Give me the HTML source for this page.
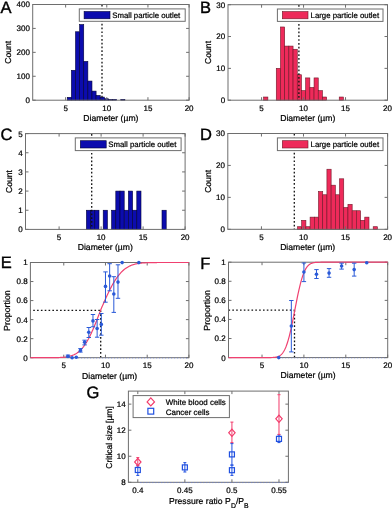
<!DOCTYPE html>
<html><head><meta charset="utf-8"><style>html,body{margin:0;padding:0;background:#fff;width:392px;height:508px;overflow:hidden}svg{display:block;will-change:transform}</style></head>
<body><svg width="392" height="508" viewBox="0 0 392 508" font-family='"Liberation Sans", sans-serif' fill="#000"><style>text{stroke:#000;stroke-width:0.22px;text-rendering:geometricPrecision}</style>
<rect width="392" height="508" fill="#fff"/>
<rect x="67.27" y="97.33" width="4.12" height="2.87" fill="#0c0cae" stroke="#000038" stroke-width="0.6"/>
<rect x="71.39" y="70.29" width="4.12" height="29.91" fill="#0c0cae" stroke="#000038" stroke-width="0.6"/>
<rect x="75.5" y="31.77" width="4.12" height="68.43" fill="#0c0cae" stroke="#000038" stroke-width="0.6"/>
<rect x="79.62" y="24.6" width="4.12" height="75.6" fill="#0c0cae" stroke="#000038" stroke-width="0.6"/>
<rect x="83.74" y="61.44" width="4.12" height="38.76" fill="#0c0cae" stroke="#000038" stroke-width="0.6"/>
<rect x="87.85" y="81.06" width="4.12" height="19.14" fill="#0c0cae" stroke="#000038" stroke-width="0.6"/>
<rect x="91.97" y="91.11" width="4.12" height="9.09" fill="#0c0cae" stroke="#000038" stroke-width="0.6"/>
<rect x="96.08" y="95.42" width="4.12" height="4.78" fill="#0c0cae" stroke="#000038" stroke-width="0.6"/>
<rect x="100.2" y="97.09" width="4.12" height="3.11" fill="#0c0cae" stroke="#000038" stroke-width="0.6"/>
<rect x="104.31" y="98.76" width="4.12" height="1.44" fill="#0c0cae" stroke="#000038" stroke-width="0.6"/>
<rect x="108.43" y="99.48" width="4.12" height="0.72" fill="#0c0cae" stroke="#000038" stroke-width="0.6"/>
<rect x="112.55" y="99.48" width="4.12" height="0.72" fill="#0c0cae" stroke="#000038" stroke-width="0.6"/>
<rect x="120.78" y="99.48" width="4.12" height="0.72" fill="#0c0cae" stroke="#000038" stroke-width="0.6"/>
<path d="M102 4.85V100.2" stroke="#111" stroke-width="1.3" stroke-dasharray="1.7 2.09" fill="none"/>
<rect x="79.3" y="8.9" width="105.9" height="12.4" fill="#fff" stroke="#6e6e6e" stroke-width="1"/>
<rect x="84.1" y="11.5" width="25.9" height="7.3" fill="#0c0cae" stroke="#000038" stroke-width="0.6"/>
<text x="112.2" y="18.1" font-size="7.8">Small particle outlet</text>
<rect x="32.7" y="4.5" width="156.4" height="95.7" fill="none" stroke="#6e6e6e" stroke-width="1"/>
<path d="M65.63 100.2v-3.0M65.63 4.5v3.0M106.78 100.2v-3.0M106.78 4.5v3.0M147.94 100.2v-3.0M147.94 4.5v3.0M189.1 100.2v-3.0M189.1 4.5v3.0M32.7 100.2h3.0M189.1 100.2h-3.0M32.7 76.28h3.0M189.1 76.28h-3.0M32.7 52.35h3.0M189.1 52.35h-3.0M32.7 28.42h3.0M189.1 28.42h-3.0M32.7 4.5h3.0M189.1 4.5h-3.0" stroke="#6e6e6e" stroke-width="1" fill="none"/>
<text x="65.63" y="110.8" font-size="8.0" text-anchor="middle">5</text>
<text x="106.78" y="110.8" font-size="8.0" text-anchor="middle">10</text>
<text x="147.94" y="110.8" font-size="8.0" text-anchor="middle">15</text>
<text x="189.1" y="110.8" font-size="8.0" text-anchor="middle">20</text>
<text x="29.9" y="103.1" font-size="8.0" text-anchor="end">0</text>
<text x="29.9" y="79.18" font-size="8.0" text-anchor="end">100</text>
<text x="29.9" y="55.25" font-size="8.0" text-anchor="end">200</text>
<text x="29.9" y="31.32" font-size="8.0" text-anchor="end">300</text>
<text x="29.9" y="7.4" font-size="8.0" text-anchor="end">400</text>
<text x="110.9" y="121" font-size="8.6" text-anchor="middle">Diameter (µm)</text>
<text transform="translate(10.6 52.35) rotate(-90)" x="0" y="0" font-size="8.6" text-anchor="middle">Count</text>
<text x="0.6" y="12.8" font-size="16.5" style="stroke-width:0.4px">A</text>
<rect x="263.68" y="97.02" width="4.2" height="3.18" fill="#ee2a5a" stroke="#701828" stroke-width="0.6"/>
<rect x="276.27" y="68.37" width="4.2" height="31.83" fill="#ee2a5a" stroke="#701828" stroke-width="0.6"/>
<rect x="280.47" y="26.98" width="4.2" height="73.22" fill="#ee2a5a" stroke="#701828" stroke-width="0.6"/>
<rect x="284.66" y="46.08" width="4.2" height="54.12" fill="#ee2a5a" stroke="#701828" stroke-width="0.6"/>
<rect x="288.86" y="46.08" width="4.2" height="54.12" fill="#ee2a5a" stroke="#701828" stroke-width="0.6"/>
<rect x="293.06" y="49.27" width="4.2" height="50.93" fill="#ee2a5a" stroke="#701828" stroke-width="0.6"/>
<rect x="297.26" y="74.73" width="4.2" height="25.47" fill="#ee2a5a" stroke="#701828" stroke-width="0.6"/>
<rect x="301.45" y="90.65" width="4.2" height="9.55" fill="#ee2a5a" stroke="#701828" stroke-width="0.6"/>
<rect x="305.65" y="77.92" width="4.2" height="22.28" fill="#ee2a5a" stroke="#701828" stroke-width="0.6"/>
<rect x="309.85" y="87.47" width="4.2" height="12.73" fill="#ee2a5a" stroke="#701828" stroke-width="0.6"/>
<rect x="314.05" y="77.92" width="4.2" height="22.28" fill="#ee2a5a" stroke="#701828" stroke-width="0.6"/>
<rect x="318.24" y="90.65" width="4.2" height="9.55" fill="#ee2a5a" stroke="#701828" stroke-width="0.6"/>
<rect x="322.44" y="97.02" width="4.2" height="3.18" fill="#ee2a5a" stroke="#701828" stroke-width="0.6"/>
<rect x="339.23" y="97.02" width="4.2" height="3.18" fill="#ee2a5a" stroke="#701828" stroke-width="0.6"/>
<path d="M298.9 5.05V100.2" stroke="#111" stroke-width="1.3" stroke-dasharray="1.7 2.09" fill="none"/>
<rect x="277.4" y="9" width="105.6" height="12.4" fill="#fff" stroke="#6e6e6e" stroke-width="1"/>
<rect x="282.3" y="11.6" width="25.7" height="7.2" fill="#ee2a5a" stroke="#701828" stroke-width="0.6"/>
<text x="310.6" y="17.9" font-size="7.8">Large particle outlet</text>
<rect x="228" y="4.7" width="159.5" height="95.5" fill="none" stroke="#6e6e6e" stroke-width="1"/>
<path d="M261.58 100.2v-3.0M261.58 4.7v3.0M303.55 100.2v-3.0M303.55 4.7v3.0M345.53 100.2v-3.0M345.53 4.7v3.0M387.5 100.2v-3.0M387.5 4.7v3.0M228 100.2h3.0M387.5 100.2h-3.0M228 68.37h3.0M387.5 68.37h-3.0M228 36.53h3.0M387.5 36.53h-3.0M228 4.7h3.0M387.5 4.7h-3.0" stroke="#6e6e6e" stroke-width="1" fill="none"/>
<text x="261.58" y="110.8" font-size="8.0" text-anchor="middle">5</text>
<text x="303.55" y="110.8" font-size="8.0" text-anchor="middle">10</text>
<text x="345.53" y="110.8" font-size="8.0" text-anchor="middle">15</text>
<text x="387.5" y="110.8" font-size="8.0" text-anchor="middle">20</text>
<text x="225.2" y="103.1" font-size="8.0" text-anchor="end">0</text>
<text x="225.2" y="71.27" font-size="8.0" text-anchor="end">10</text>
<text x="225.2" y="39.43" font-size="8.0" text-anchor="end">20</text>
<text x="225.2" y="7.6" font-size="8.0" text-anchor="end">30</text>
<text x="307.75" y="121" font-size="8.6" text-anchor="middle">Diameter (µm)</text>
<text transform="translate(210.8 52.45) rotate(-90)" x="0" y="0" font-size="8.6" text-anchor="middle">Count</text>
<text x="200" y="13.1" font-size="16.5" style="stroke-width:0.4px">B</text>
<rect x="86.4" y="210.24" width="4.2" height="19.16" fill="#0c0cae" stroke="#000038" stroke-width="0.6"/>
<rect x="90.6" y="210.24" width="4.2" height="19.16" fill="#0c0cae" stroke="#000038" stroke-width="0.6"/>
<rect x="94.8" y="210.24" width="4.2" height="19.16" fill="#0c0cae" stroke="#000038" stroke-width="0.6"/>
<rect x="103.2" y="210.24" width="4.2" height="19.16" fill="#0c0cae" stroke="#000038" stroke-width="0.6"/>
<rect x="111.6" y="210.24" width="4.2" height="19.16" fill="#0c0cae" stroke="#000038" stroke-width="0.6"/>
<rect x="115.8" y="191.08" width="4.2" height="38.32" fill="#0c0cae" stroke="#000038" stroke-width="0.6"/>
<rect x="120" y="191.08" width="4.2" height="38.32" fill="#0c0cae" stroke="#000038" stroke-width="0.6"/>
<rect x="124.2" y="210.24" width="4.2" height="19.16" fill="#0c0cae" stroke="#000038" stroke-width="0.6"/>
<rect x="128.4" y="191.08" width="4.2" height="38.32" fill="#0c0cae" stroke="#000038" stroke-width="0.6"/>
<rect x="132.6" y="210.24" width="4.2" height="19.16" fill="#0c0cae" stroke="#000038" stroke-width="0.6"/>
<rect x="136.8" y="191.08" width="4.2" height="38.32" fill="#0c0cae" stroke="#000038" stroke-width="0.6"/>
<rect x="162" y="210.24" width="4.2" height="19.16" fill="#0c0cae" stroke="#000038" stroke-width="0.6"/>
<path d="M91.7 133.95V229.4" stroke="#111" stroke-width="1.3" stroke-dasharray="1.7 2.09" fill="none"/>
<rect x="75.3" y="137.9" width="105.8" height="12.7" fill="#fff" stroke="#6e6e6e" stroke-width="1"/>
<rect x="80.3" y="140.7" width="25.9" height="7.3" fill="#0c0cae" stroke="#000038" stroke-width="0.6"/>
<text x="108.3" y="146.9" font-size="7.8">Small particle outlet</text>
<rect x="25.5" y="133.6" width="159.6" height="95.8" fill="none" stroke="#6e6e6e" stroke-width="1"/>
<path d="M59.1 229.4v-3.0M59.1 133.6v3.0M101.1 229.4v-3.0M101.1 133.6v3.0M143.1 229.4v-3.0M143.1 133.6v3.0M185.1 229.4v-3.0M185.1 133.6v3.0M25.5 229.4h3.0M185.1 229.4h-3.0M25.5 210.24h3.0M185.1 210.24h-3.0M25.5 191.08h3.0M185.1 191.08h-3.0M25.5 171.92h3.0M185.1 171.92h-3.0M25.5 152.76h3.0M185.1 152.76h-3.0M25.5 133.6h3.0M185.1 133.6h-3.0" stroke="#6e6e6e" stroke-width="1" fill="none"/>
<text x="59.1" y="240" font-size="8.0" text-anchor="middle">5</text>
<text x="101.1" y="240" font-size="8.0" text-anchor="middle">10</text>
<text x="143.1" y="240" font-size="8.0" text-anchor="middle">15</text>
<text x="185.1" y="240" font-size="8.0" text-anchor="middle">20</text>
<text x="22.7" y="232.3" font-size="8.0" text-anchor="end">0</text>
<text x="22.7" y="213.14" font-size="8.0" text-anchor="end">1</text>
<text x="22.7" y="193.98" font-size="8.0" text-anchor="end">2</text>
<text x="22.7" y="174.82" font-size="8.0" text-anchor="end">3</text>
<text x="22.7" y="155.66" font-size="8.0" text-anchor="end">4</text>
<text x="22.7" y="136.5" font-size="8.0" text-anchor="end">5</text>
<text x="105.3" y="250.2" font-size="8.6" text-anchor="middle">Diameter (µm)</text>
<text transform="translate(12.3 181.5) rotate(-90)" x="0" y="0" font-size="8.6" text-anchor="middle">Count</text>
<text x="0.6" y="140" font-size="16.5" style="stroke-width:0.4px">C</text>
<rect x="297.49" y="226.71" width="4.21" height="2.59" fill="#ee2a5a" stroke="#701828" stroke-width="0.6"/>
<rect x="301.69" y="220.32" width="4.21" height="8.98" fill="#ee2a5a" stroke="#701828" stroke-width="0.6"/>
<rect x="305.9" y="226.71" width="4.21" height="2.59" fill="#ee2a5a" stroke="#701828" stroke-width="0.6"/>
<rect x="310.1" y="217.13" width="4.21" height="12.17" fill="#ee2a5a" stroke="#701828" stroke-width="0.6"/>
<rect x="314.31" y="217.13" width="4.21" height="12.17" fill="#ee2a5a" stroke="#701828" stroke-width="0.6"/>
<rect x="318.51" y="191.58" width="4.21" height="37.72" fill="#ee2a5a" stroke="#701828" stroke-width="0.6"/>
<rect x="322.72" y="194.77" width="4.21" height="34.53" fill="#ee2a5a" stroke="#701828" stroke-width="0.6"/>
<rect x="326.92" y="169.23" width="4.21" height="60.07" fill="#ee2a5a" stroke="#701828" stroke-width="0.6"/>
<rect x="331.13" y="185.19" width="4.21" height="44.11" fill="#ee2a5a" stroke="#701828" stroke-width="0.6"/>
<rect x="335.33" y="194.77" width="4.21" height="34.53" fill="#ee2a5a" stroke="#701828" stroke-width="0.6"/>
<rect x="339.54" y="178.81" width="4.21" height="50.49" fill="#ee2a5a" stroke="#701828" stroke-width="0.6"/>
<rect x="343.74" y="207.55" width="4.21" height="21.75" fill="#ee2a5a" stroke="#701828" stroke-width="0.6"/>
<rect x="347.95" y="204.35" width="4.21" height="24.95" fill="#ee2a5a" stroke="#701828" stroke-width="0.6"/>
<rect x="352.16" y="210.74" width="4.21" height="18.56" fill="#ee2a5a" stroke="#701828" stroke-width="0.6"/>
<rect x="356.36" y="210.74" width="4.21" height="18.56" fill="#ee2a5a" stroke="#701828" stroke-width="0.6"/>
<rect x="360.57" y="220.32" width="4.21" height="8.98" fill="#ee2a5a" stroke="#701828" stroke-width="0.6"/>
<rect x="364.77" y="217.13" width="4.21" height="12.17" fill="#ee2a5a" stroke="#701828" stroke-width="0.6"/>
<rect x="373.18" y="226.71" width="4.21" height="2.59" fill="#ee2a5a" stroke="#701828" stroke-width="0.6"/>
<path d="M294.3 133.85V229.3" stroke="#111" stroke-width="1.3" stroke-dasharray="1.7 2.09" fill="none"/>
<rect x="277.4" y="137.9" width="105.6" height="12.7" fill="#fff" stroke="#6e6e6e" stroke-width="1"/>
<rect x="282.3" y="140.7" width="25.7" height="7.3" fill="#ee2a5a" stroke="#701828" stroke-width="0.6"/>
<text x="310.6" y="146.9" font-size="7.8">Large particle outlet</text>
<rect x="227.8" y="133.5" width="159.8" height="95.8" fill="none" stroke="#6e6e6e" stroke-width="1"/>
<path d="M261.44 229.3v-3.0M261.44 133.5v3.0M303.49 229.3v-3.0M303.49 133.5v3.0M345.55 229.3v-3.0M345.55 133.5v3.0M387.6 229.3v-3.0M387.6 133.5v3.0M227.8 229.3h3.0M387.6 229.3h-3.0M227.8 197.37h3.0M387.6 197.37h-3.0M227.8 165.43h3.0M387.6 165.43h-3.0M227.8 133.5h3.0M387.6 133.5h-3.0" stroke="#6e6e6e" stroke-width="1" fill="none"/>
<text x="261.44" y="239.9" font-size="8.0" text-anchor="middle">5</text>
<text x="303.49" y="239.9" font-size="8.0" text-anchor="middle">10</text>
<text x="345.55" y="239.9" font-size="8.0" text-anchor="middle">15</text>
<text x="387.6" y="239.9" font-size="8.0" text-anchor="middle">20</text>
<text x="225" y="232.2" font-size="8.0" text-anchor="end">0</text>
<text x="225" y="200.27" font-size="8.0" text-anchor="end">10</text>
<text x="225" y="168.33" font-size="8.0" text-anchor="end">20</text>
<text x="225" y="136.4" font-size="8.0" text-anchor="end">30</text>
<text x="307.7" y="250.1" font-size="8.6" text-anchor="middle">Diameter (µm)</text>
<text transform="translate(210.8 181.4) rotate(-90)" x="0" y="0" font-size="8.6" text-anchor="middle">Count</text>
<text x="200" y="139.8" font-size="16.5" style="stroke-width:0.4px">D</text>
<path d="M30.4 310.4H100.7" stroke="#111" stroke-width="1.3" stroke-dasharray="1.6 2.23" stroke-dashoffset="1.0" fill="none"/>
<path d="M100.7 310.4V357.7" stroke="#111" stroke-width="1.3" stroke-dasharray="1.7 2.09" fill="none"/>
<rect x="30.4" y="262.5" width="158.5" height="95.2" fill="none" stroke="#6e6e6e" stroke-width="1"/>
<path d="M63.77 357.7v-3.0M63.77 262.5v3.0M105.48 357.7v-3.0M105.48 262.5v3.0M147.19 357.7v-3.0M147.19 262.5v3.0M188.9 357.7v-3.0M188.9 262.5v3.0M30.4 357.7h3.0M188.9 357.7h-3.0M30.4 338.66h3.0M188.9 338.66h-3.0M30.4 319.62h3.0M188.9 319.62h-3.0M30.4 300.58h3.0M188.9 300.58h-3.0M30.4 281.54h3.0M188.9 281.54h-3.0M30.4 262.5h3.0M188.9 262.5h-3.0" stroke="#6e6e6e" stroke-width="1" fill="none"/>
<text x="63.77" y="368.3" font-size="8.0" text-anchor="middle">5</text>
<text x="105.48" y="368.3" font-size="8.0" text-anchor="middle">10</text>
<text x="147.19" y="368.3" font-size="8.0" text-anchor="middle">15</text>
<text x="188.9" y="368.3" font-size="8.0" text-anchor="middle">20</text>
<text x="27.6" y="360.6" font-size="8.0" text-anchor="end">0</text>
<text x="27.6" y="341.56" font-size="8.0" text-anchor="end">0.2</text>
<text x="27.6" y="322.52" font-size="8.0" text-anchor="end">0.4</text>
<text x="27.6" y="303.48" font-size="8.0" text-anchor="end">0.6</text>
<text x="27.6" y="284.44" font-size="8.0" text-anchor="end">0.8</text>
<text x="27.6" y="265.4" font-size="8.0" text-anchor="end">1</text>
<text x="109.65" y="378.5" font-size="8.6" text-anchor="middle">Diameter (µm)</text>
<text transform="translate(10.2 310.6) rotate(-90)" x="0" y="0" font-size="8.8" text-anchor="middle">Proportion</text>
<text x="0.8" y="268" font-size="16.5" style="stroke-width:0.4px">E</text>
<path d="M78 358.1H188" stroke="#5a78f0" stroke-width="0.9" stroke-dasharray="1.2 1.8" opacity="0.55"/>
<polyline points="30.4,357.7 30.82,357.7 31.23,357.7 31.65,357.7 32.07,357.7 32.49,357.7 32.9,357.7 33.32,357.7 33.74,357.7 34.15,357.7 34.57,357.7 34.99,357.7 35.41,357.7 35.82,357.7 36.24,357.7 36.66,357.7 37.07,357.7 37.49,357.7 37.91,357.7 38.33,357.7 38.74,357.7 39.16,357.7 39.58,357.7 39.99,357.7 40.41,357.7 40.83,357.7 41.24,357.7 41.66,357.7 42.08,357.7 42.5,357.7 42.91,357.7 43.33,357.7 43.75,357.7 44.16,357.7 44.58,357.7 45,357.69 45.42,357.69 45.83,357.69 46.25,357.69 46.67,357.69 47.08,357.69 47.5,357.69 47.92,357.69 48.34,357.69 48.75,357.69 49.17,357.68 49.59,357.68 50,357.68 50.42,357.68 50.84,357.68 51.26,357.67 51.67,357.67 52.09,357.67 52.51,357.66 52.92,357.66 53.34,357.65 53.76,357.65 54.17,357.64 54.59,357.64 55.01,357.63 55.43,357.62 55.84,357.61 56.26,357.61 56.68,357.6 57.09,357.59 57.51,357.57 57.93,357.56 58.35,357.55 58.76,357.53 59.18,357.52 59.6,357.5 60.01,357.48 60.43,357.46 60.85,357.44 61.27,357.41 61.68,357.38 62.1,357.36 62.52,357.32 62.93,357.29 63.35,357.25 63.77,357.22 64.19,357.17 64.6,357.13 65.02,357.08 65.44,357.03 65.85,356.97 66.27,356.91 66.69,356.84 67.11,356.78 67.52,356.7 67.94,356.62 68.36,356.54 68.77,356.45 69.19,356.35 69.61,356.25 70.03,356.14 70.44,356.02 70.86,355.89 71.28,355.76 71.69,355.62 72.11,355.47 72.53,355.32 72.94,355.15 73.36,354.97 73.78,354.79 74.2,354.59 74.61,354.38 75.03,354.16 75.45,353.93 75.86,353.69 76.28,353.44 76.7,353.17 77.12,352.89 77.53,352.59 77.95,352.28 78.37,351.96 78.78,351.62 79.2,351.27 79.62,350.9 80.04,350.51 80.45,350.11 80.87,349.69 81.29,349.26 81.7,348.8 82.12,348.33 82.54,347.84 82.96,347.34 83.37,346.81 83.79,346.27 84.21,345.7 84.62,345.12 85.04,344.52 85.46,343.9 85.88,343.26 86.29,342.6 86.71,341.92 87.13,341.22 87.54,340.5 87.96,339.76 88.38,339.01 88.79,338.23 89.21,337.44 89.63,336.62 90.05,335.79 90.46,334.94 90.88,334.07 91.3,333.19 91.71,332.29 92.13,331.37 92.55,330.44 92.97,329.49 93.38,328.52 93.8,327.54 94.22,326.55 94.63,325.55 95.05,324.53 95.47,323.5 95.89,322.46 96.3,321.41 96.72,320.35 97.14,319.28 97.55,318.21 97.97,317.13 98.39,316.04 98.81,314.94 99.22,313.85 99.64,312.75 100.06,311.65 100.47,310.54 100.89,309.52 101.31,308.54 101.72,307.57 102.14,306.6 102.56,305.63 102.98,304.67 103.39,303.7 103.81,302.75 104.23,301.79 104.64,300.84 105.06,299.9 105.48,298.97 105.9,298.04 106.31,297.12 106.73,296.21 107.15,295.3 107.56,294.41 107.98,293.53 108.4,292.65 108.82,291.79 109.23,290.93 109.65,290.09 110.07,289.26 110.48,288.45 110.9,287.64 111.32,286.85 111.74,286.07 112.15,285.31 112.57,284.56 112.99,283.82 113.4,283.1 113.82,282.39 114.24,281.69 114.66,281.01 115.07,280.35 115.49,279.7 115.91,279.07 116.32,278.45 116.74,277.84 117.16,277.25 117.58,276.68 117.99,276.12 118.41,275.58 118.83,275.05 119.24,274.53 119.66,274.03 120.08,273.55 120.49,273.08 120.91,272.62 121.33,272.18 121.75,271.76 122.16,271.34 122.58,270.95 123,270.56 123.41,270.19 123.83,269.83 124.25,269.48 124.67,269.15 125.08,268.83 125.5,268.52 125.92,268.22 126.33,267.94 126.75,267.66 127.17,267.4 127.59,267.15 128,266.91 128.42,266.67 128.84,266.45 129.25,266.24 129.67,266.04 130.09,265.84 130.51,265.66 130.92,265.48 131.34,265.31 131.76,265.15 132.17,265 132.59,264.86 133.01,264.72 133.43,264.59 133.84,264.46 134.26,264.35 134.68,264.23 135.09,264.13 135.51,264.03 135.93,263.93 136.34,263.84 136.76,263.76 137.18,263.68 137.6,263.6 138.01,263.53 138.43,263.46 138.85,263.4 139.26,263.34 139.68,263.28 140.1,263.23 140.52,263.18 140.93,263.13 141.35,263.09 141.77,263.05 142.18,263.01 142.6,262.97 143.02,262.94 143.44,262.91 143.85,262.88 144.27,262.85 144.69,262.82 145.1,262.8 145.52,262.78 145.94,262.76 146.36,262.74 146.77,262.72 147.19,262.7 147.61,262.69 148.02,262.67 148.44,262.66 148.86,262.64 149.28,262.63 149.69,262.62 150.11,262.61 150.53,262.6 150.94,262.59 151.36,262.59 151.78,262.58 152.19,262.57 152.61,262.57 153.03,262.56 153.45,262.56 153.86,262.55 154.28,262.55 154.7,262.54 155.11,262.54 155.53,262.54 155.95,262.53 156.37,262.53 156.78,262.53 157.2,262.52 157.62,262.52 158.03,262.52 158.45,262.52 158.87,262.52 159.29,262.51 159.7,262.51 160.12,262.51 160.54,262.51 160.95,262.51 161.37,262.51 161.79,262.51 162.21,262.51 162.62,262.51 163.04,262.51 163.46,262.51 163.87,262.5 164.29,262.5 164.71,262.5 165.13,262.5 165.54,262.5 165.96,262.5 166.38,262.5 166.79,262.5 167.21,262.5 167.63,262.5 168.04,262.5 168.46,262.5 168.88,262.5 169.3,262.5 169.71,262.5 170.13,262.5 170.55,262.5 170.96,262.5 171.38,262.5 171.8,262.5 172.22,262.5 172.63,262.5 173.05,262.5 173.47,262.5 173.88,262.5 174.3,262.5 174.72,262.5 175.14,262.5 175.55,262.5 175.97,262.5 176.39,262.5 176.8,262.5 177.22,262.5 177.64,262.5 178.06,262.5 178.47,262.5 178.89,262.5 179.31,262.5 179.72,262.5 180.14,262.5 180.56,262.5 180.98,262.5 181.39,262.5 181.81,262.5 182.23,262.5 182.64,262.5 183.06,262.5 183.48,262.5 183.89,262.5 184.31,262.5 184.73,262.5 185.15,262.5 185.56,262.5 185.98,262.5 186.4,262.5 186.81,262.5 187.23,262.5 187.65,262.5 188.07,262.5 188.48,262.5 188.9,262.5" fill="none" stroke="#f04070" stroke-width="1.2"/>
<path d="M67.94 355.1V356.9M65.74 355.1h4.4M65.74 356.9h4.4M80.45 348.6V352.1M78.25 348.6h4.4M78.25 352.1h4.4M84.62 340.2V344.9M82.42 340.2h4.4M82.42 344.9h4.4M88.79 327.5V337.5M86.59 327.5h4.4M86.59 337.5h4.4M92.97 314.5V326.8M90.77 314.5h4.4M90.77 326.8h4.4M97.14 319.5V337.2M94.94 319.5h4.4M94.94 337.2h4.4M101.31 313.5V335.2M99.11 313.5h4.4M99.11 335.2h4.4M105.48 271.9V302.2M103.28 271.9h4.4M103.28 302.2h4.4M109.65 263.7V290.8M107.45 263.7h4.4M107.45 290.8h4.4M113.82 276.7V312.4M111.62 276.7h4.4M111.62 312.4h4.4M117.99 264.8V298.3M115.79 264.8h4.4M115.79 298.3h4.4" stroke="#2a5ad8" stroke-width="1" fill="none"/>
<circle cx="67.94" cy="356.4" r="1.8" fill="#2a5ad8"/>
<circle cx="72.11" cy="357.7" r="1.8" fill="#2a5ad8"/>
<circle cx="76.28" cy="357.3" r="1.8" fill="#2a5ad8"/>
<circle cx="80.45" cy="350.4" r="1.8" fill="#2a5ad8"/>
<circle cx="84.62" cy="342.3" r="1.8" fill="#2a5ad8"/>
<circle cx="88.79" cy="332.3" r="1.8" fill="#2a5ad8"/>
<circle cx="92.97" cy="320.9" r="1.8" fill="#2a5ad8"/>
<circle cx="97.14" cy="328.5" r="1.8" fill="#2a5ad8"/>
<circle cx="101.31" cy="324.4" r="1.8" fill="#2a5ad8"/>
<circle cx="105.48" cy="286.4" r="1.8" fill="#2a5ad8"/>
<circle cx="109.65" cy="276" r="1.8" fill="#2a5ad8"/>
<circle cx="113.82" cy="294" r="1.8" fill="#2a5ad8"/>
<circle cx="117.99" cy="282.1" r="1.8" fill="#2a5ad8"/>
<circle cx="122.16" cy="262.6" r="1.8" fill="#2a5ad8"/>
<circle cx="138.85" cy="262.6" r="1.8" fill="#2a5ad8"/>
<path d="M228.5 310.2H294.5" stroke="#111" stroke-width="1.3" stroke-dasharray="1.6 2.23" stroke-dashoffset="0" fill="none"/>
<path d="M294.5 310.2V357.6" stroke="#111" stroke-width="1.3" stroke-dasharray="1.7 2.09" fill="none"/>
<rect x="228.5" y="262.2" width="159.2" height="95.4" fill="none" stroke="#6e6e6e" stroke-width="1"/>
<path d="M262.02 357.6v-3.0M262.02 262.2v3.0M303.91 357.6v-3.0M303.91 262.2v3.0M345.81 357.6v-3.0M345.81 262.2v3.0M387.7 357.6v-3.0M387.7 262.2v3.0M228.5 357.6h3.0M387.7 357.6h-3.0M228.5 338.52h3.0M387.7 338.52h-3.0M228.5 319.44h3.0M387.7 319.44h-3.0M228.5 300.36h3.0M387.7 300.36h-3.0M228.5 281.28h3.0M387.7 281.28h-3.0M228.5 262.2h3.0M387.7 262.2h-3.0" stroke="#6e6e6e" stroke-width="1" fill="none"/>
<text x="262.02" y="368.2" font-size="8.0" text-anchor="middle">5</text>
<text x="303.91" y="368.2" font-size="8.0" text-anchor="middle">10</text>
<text x="345.81" y="368.2" font-size="8.0" text-anchor="middle">15</text>
<text x="387.7" y="368.2" font-size="8.0" text-anchor="middle">20</text>
<text x="225.7" y="360.5" font-size="8.0" text-anchor="end">0</text>
<text x="225.7" y="341.42" font-size="8.0" text-anchor="end">0.2</text>
<text x="225.7" y="322.34" font-size="8.0" text-anchor="end">0.4</text>
<text x="225.7" y="303.26" font-size="8.0" text-anchor="end">0.6</text>
<text x="225.7" y="284.18" font-size="8.0" text-anchor="end">0.8</text>
<text x="225.7" y="265.1" font-size="8.0" text-anchor="end">1</text>
<text x="308.1" y="378.4" font-size="8.6" text-anchor="middle">Diameter (µm)</text>
<text transform="translate(209.8 310.4) rotate(-90)" x="0" y="0" font-size="8.8" text-anchor="middle">Proportion</text>
<text x="200.3" y="268.5" font-size="16.5" style="stroke-width:0.4px">F</text>
<path d="M282 358H387" stroke="#5a78f0" stroke-width="0.9" stroke-dasharray="1.2 1.8" opacity="0.45"/>
<polyline points="228.5,357.6 228.92,357.6 229.34,357.6 229.76,357.6 230.18,357.6 230.59,357.6 231.01,357.6 231.43,357.6 231.85,357.6 232.27,357.6 232.69,357.6 233.11,357.6 233.53,357.6 233.95,357.6 234.37,357.6 234.78,357.6 235.2,357.6 235.62,357.6 236.04,357.6 236.46,357.6 236.88,357.6 237.3,357.6 237.72,357.6 238.14,357.6 238.55,357.6 238.97,357.6 239.39,357.6 239.81,357.6 240.23,357.6 240.65,357.6 241.07,357.6 241.49,357.6 241.91,357.6 242.33,357.6 242.74,357.6 243.16,357.6 243.58,357.6 244,357.6 244.42,357.6 244.84,357.6 245.26,357.6 245.68,357.6 246.1,357.6 246.51,357.6 246.93,357.6 247.35,357.6 247.77,357.6 248.19,357.6 248.61,357.6 249.03,357.6 249.45,357.6 249.87,357.6 250.29,357.6 250.7,357.6 251.12,357.6 251.54,357.6 251.96,357.6 252.38,357.6 252.8,357.6 253.22,357.6 253.64,357.6 254.06,357.6 254.47,357.6 254.89,357.6 255.31,357.6 255.73,357.6 256.15,357.6 256.57,357.6 256.99,357.6 257.41,357.6 257.83,357.6 258.25,357.6 258.66,357.6 259.08,357.6 259.5,357.6 259.92,357.6 260.34,357.6 260.76,357.6 261.18,357.6 261.6,357.6 262.02,357.6 262.43,357.6 262.85,357.6 263.27,357.6 263.69,357.6 264.11,357.6 264.53,357.6 264.95,357.6 265.37,357.6 265.79,357.6 266.21,357.6 266.62,357.59 267.04,357.59 267.46,357.59 267.88,357.59 268.3,357.58 268.72,357.58 269.14,357.58 269.56,357.57 269.98,357.56 270.39,357.56 270.81,357.55 271.23,357.54 271.65,357.52 272.07,357.5 272.49,357.48 272.91,357.46 273.33,357.43 273.75,357.4 274.17,357.36 274.58,357.32 275,357.26 275.42,357.2 275.84,357.13 276.26,357.04 276.68,356.95 277.1,356.84 277.52,356.71 277.94,356.56 278.35,356.4 278.77,356.21 279.19,356 279.61,355.76 280.03,355.49 280.45,355.18 280.87,354.85 281.29,354.47 281.71,354.05 282.13,353.59 282.54,353.08 282.96,352.51 283.38,351.9 283.8,351.23 284.22,350.49 284.64,349.7 285.06,348.84 285.48,347.91 285.9,346.91 286.31,345.85 286.73,344.7 287.15,343.49 287.57,342.2 287.99,340.84 288.41,339.4 288.83,337.89 289.25,336.3 289.67,334.65 290.09,332.93 290.5,331.15 290.92,329.3 291.34,327.4 291.76,325.44 292.18,323.44 292.6,321.4 293.02,319.32 293.44,317.21 293.86,315.07 294.27,312.92 294.69,310.76 295.11,308.6 295.53,306.44 295.95,304.3 296.37,302.17 296.79,300.06 297.21,297.99 297.63,295.96 298.05,293.96 298.46,292.02 298.88,290.13 299.3,288.29 299.72,286.52 300.14,284.81 300.56,283.17 300.98,281.6 301.4,280.11 301.82,278.68 302.23,277.34 302.65,276.06 303.07,274.86 303.49,273.73 303.91,272.68 304.33,271.7 304.75,270.78 305.17,269.94 305.59,269.15 306.01,268.43 306.42,267.77 306.84,267.17 307.26,266.62 307.68,266.12 308.1,265.66 308.52,265.25 308.94,264.88 309.36,264.55 309.78,264.26 310.19,263.99 310.61,263.76 311.03,263.55 311.45,263.37 311.87,263.2 312.29,263.06 312.71,262.94 313.13,262.83 313.55,262.74 313.97,262.66 314.38,262.59 314.8,262.53 315.22,262.47 315.64,262.43 316.06,262.39 316.48,262.36 316.9,262.33 317.32,262.31 317.74,262.29 318.15,262.28 318.57,262.26 318.99,262.25 319.41,262.24 319.83,262.23 320.25,262.23 320.67,262.22 321.09,262.22 321.51,262.21 321.93,262.21 322.34,262.21 322.76,262.21 323.18,262.21 323.6,262.2 324.02,262.2 324.44,262.2 324.86,262.2 325.28,262.2 325.7,262.2 326.11,262.2 326.53,262.2 326.95,262.2 327.37,262.2 327.79,262.2 328.21,262.2 328.63,262.2 329.05,262.2 329.47,262.2 329.89,262.2 330.3,262.2 330.72,262.2 331.14,262.2 331.56,262.2 331.98,262.2 332.4,262.2 332.82,262.2 333.24,262.2 333.66,262.2 334.07,262.2 334.49,262.2 334.91,262.2 335.33,262.2 335.75,262.2 336.17,262.2 336.59,262.2 337.01,262.2 337.43,262.2 337.85,262.2 338.26,262.2 338.68,262.2 339.1,262.2 339.52,262.2 339.94,262.2 340.36,262.2 340.78,262.2 341.2,262.2 341.62,262.2 342.03,262.2 342.45,262.2 342.87,262.2 343.29,262.2 343.71,262.2 344.13,262.2 344.55,262.2 344.97,262.2 345.39,262.2 345.81,262.2 346.22,262.2 346.64,262.2 347.06,262.2 347.48,262.2 347.9,262.2 348.32,262.2 348.74,262.2 349.16,262.2 349.58,262.2 349.99,262.2 350.41,262.2 350.83,262.2 351.25,262.2 351.67,262.2 352.09,262.2 352.51,262.2 352.93,262.2 353.35,262.2 353.77,262.2 354.18,262.2 354.6,262.2 355.02,262.2 355.44,262.2 355.86,262.2 356.28,262.2 356.7,262.2 357.12,262.2 357.54,262.2 357.95,262.2 358.37,262.2 358.79,262.2 359.21,262.2 359.63,262.2 360.05,262.2 360.47,262.2 360.89,262.2 361.31,262.2 361.73,262.2 362.14,262.2 362.56,262.2 362.98,262.2 363.4,262.2 363.82,262.2 364.24,262.2 364.66,262.2 365.08,262.2 365.5,262.2 365.91,262.2 366.33,262.2 366.75,262.2 367.17,262.2 367.59,262.2 368.01,262.2 368.43,262.2 368.85,262.2 369.27,262.2 369.69,262.2 370.1,262.2 370.52,262.2 370.94,262.2 371.36,262.2 371.78,262.2 372.2,262.2 372.62,262.2 373.04,262.2 373.46,262.2 373.87,262.2 374.29,262.2 374.71,262.2 375.13,262.2 375.55,262.2 375.97,262.2 376.39,262.2 376.81,262.2 377.23,262.2 377.65,262.2 378.06,262.2 378.48,262.2 378.9,262.2 379.32,262.2 379.74,262.2 380.16,262.2 380.58,262.2 381,262.2 381.42,262.2 381.83,262.2 382.25,262.2 382.67,262.2 383.09,262.2 383.51,262.2 383.93,262.2 384.35,262.2 384.77,262.2 385.19,262.2 385.61,262.2 386.02,262.2 386.44,262.2 386.86,262.2 387.28,262.2 387.7,262.2" fill="none" stroke="#f04070" stroke-width="1.2"/>
<path d="M291.34 300.5V351.9M289.14 300.5h4.4M289.14 351.9h4.4M303.91 263V281.6M301.71 263h4.4M301.71 281.6h4.4M316.48 269.6V278.5M314.28 269.6h4.4M314.28 278.5h4.4M329.05 268.6V277.3M326.85 268.6h4.4M326.85 277.3h4.4M341.62 263.2V269.1M339.42 263.2h4.4M339.42 269.1h4.4M354.18 263.2V276.1M351.98 263.2h4.4M351.98 276.1h4.4" stroke="#2a5ad8" stroke-width="1" fill="none"/>
<circle cx="278.77" cy="357.6" r="1.8" fill="#2a5ad8"/>
<circle cx="291.34" cy="326.1" r="1.8" fill="#2a5ad8"/>
<circle cx="303.91" cy="272" r="1.8" fill="#2a5ad8"/>
<circle cx="316.48" cy="274.2" r="1.8" fill="#2a5ad8"/>
<circle cx="329.05" cy="273.1" r="1.8" fill="#2a5ad8"/>
<circle cx="341.62" cy="266" r="1.8" fill="#2a5ad8"/>
<circle cx="354.18" cy="269.6" r="1.8" fill="#2a5ad8"/>
<circle cx="366.75" cy="262.7" r="1.8" fill="#2a5ad8"/>
<rect x="128.4" y="391.1" width="160" height="91.2" fill="none" stroke="#6e6e6e" stroke-width="1"/>
<path d="M137.81 482.3v-3.0M137.81 391.1v3.0M184.87 482.3v-3.0M184.87 391.1v3.0M231.93 482.3v-3.0M231.93 391.1v3.0M278.99 482.3v-3.0M278.99 391.1v3.0M128.4 482.3h3.0M288.4 482.3h-3.0M128.4 456.24h3.0M288.4 456.24h-3.0M128.4 430.19h3.0M288.4 430.19h-3.0M128.4 404.13h3.0M288.4 404.13h-3.0" stroke="#6e6e6e" stroke-width="1" fill="none"/>
<text x="137.81" y="492.9" font-size="8.0" text-anchor="middle">0.4</text>
<text x="184.87" y="492.9" font-size="8.0" text-anchor="middle">0.45</text>
<text x="231.93" y="492.9" font-size="8.0" text-anchor="middle">0.5</text>
<text x="278.99" y="492.9" font-size="8.0" text-anchor="middle">0.55</text>
<text x="125.6" y="485.2" font-size="8.0" text-anchor="end">8</text>
<text x="125.6" y="459.14" font-size="8.0" text-anchor="end">10</text>
<text x="125.6" y="433.09" font-size="8.0" text-anchor="end">12</text>
<text x="125.6" y="407.03" font-size="8.0" text-anchor="end">14</text>
<text x="169.0" y="503.6" font-size="8.6">Pressure ratio P<tspan font-size="6.9" dx="0.3" dy="4.2">D</tspan><tspan dy="-4.2">/P</tspan><tspan font-size="6.9" dy="4.2">B</tspan></text>
<text transform="translate(111.8 437.5) rotate(-90)" font-size="8.5" text-anchor="middle">Critical size [µm]</text>
<text x="86.5" y="397.9" font-size="16.5" style="stroke-width:0.4px">G</text>
<path d="M140 482.6H288" stroke="#5a78f0" stroke-width="0.9" stroke-dasharray="1.5 1.5" opacity="0.5"/>
<path d="M137.81 465.8V475.4M136.31 465.8h3M136.31 475.4h3M184.87 462.6V472M183.37 462.6h3M183.37 472h3M231.93 443.6V465M230.43 443.6h3M230.43 465h3M231.93 465.2V475.4M230.43 465.2h3M230.43 475.4h3M278.99 435V442.6M277.49 435h3M277.49 442.6h3" stroke="#2050e0" stroke-width="1" fill="none"/>
<rect x="135.31" y="467.5" width="5.0" height="5.0" fill="none" stroke="#2050e0" stroke-width="1.2"/>
<rect x="182.37" y="464.9" width="5.0" height="5.0" fill="none" stroke="#2050e0" stroke-width="1.2"/>
<rect x="229.43" y="451.9" width="5.0" height="5.0" fill="none" stroke="#2050e0" stroke-width="1.2"/>
<rect x="229.43" y="467.7" width="5.0" height="5.0" fill="none" stroke="#2050e0" stroke-width="1.2"/>
<rect x="276.49" y="436.4" width="5.0" height="5.0" fill="none" stroke="#2050e0" stroke-width="1.2"/>
<path d="M137.81 457.6V465.8M136.31 457.6h3M136.31 465.8h3M231.93 422.1V442.6M230.43 422.1h3M230.43 442.6h3M278.99 394.7V434.4M277.49 394.7h3M277.49 434.4h3" stroke="#f23a6a" stroke-width="1" fill="none"/>
<path d="M137.81 458.4L141.01 462L137.81 465.6L134.61 462Z" fill="none" stroke="#f23a6a" stroke-width="1.15"/>
<path d="M231.93 429.2L235.13 432.8L231.93 436.4L228.73 432.8Z" fill="none" stroke="#f23a6a" stroke-width="1.15"/>
<path d="M278.99 415.2L282.19 418.8L278.99 422.4L275.79 418.8Z" fill="none" stroke="#f23a6a" stroke-width="1.15"/>
<rect x="133.1" y="395.6" width="96.3" height="22.0" fill="#fff" stroke="#6e6e6e" stroke-width="1"/>
<path d="M150.8 397.9L154.5 401.9L150.8 405.9L147.1 401.9Z" fill="none" stroke="#f23a6a" stroke-width="1.2"/>
<rect x="147.9" y="408.3" width="5.8" height="5.8" fill="none" stroke="#2050e0" stroke-width="1.2"/>
<text x="165.8" y="404.8" font-size="7.95">White blood cells</text>
<text x="165.8" y="414.6" font-size="7.95">Cancer cells</text>
</svg></body></html>
